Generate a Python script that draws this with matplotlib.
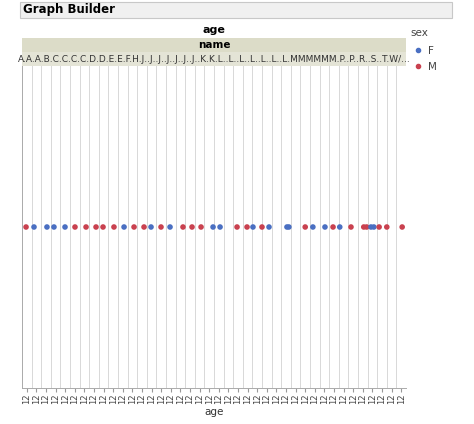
import matplotlib.pyplot as plt
from matplotlib.patches import Rectangle
import numpy as np

# dot positions in panel units (40 name panels, all age 12)
dot_x = [0.42, 1.25, 2.6, 3.33, 4.48, 5.52, 6.67, 7.71, 8.44, 9.58, 10.63, 11.67, 12.71,
         13.44, 14.48, 15.42, 16.77, 17.71, 18.65, 19.9, 20.63, 22.4, 23.44, 24.06, 25.0,
         25.73, 27.6, 27.8, 29.5, 30.3, 31.56, 32.4, 33.1, 34.27, 35.6, 35.9, 36.35, 36.65,
         37.2, 38.0, 39.6]
dot_sex = list("RBBBBRRRRRBRRBRBRRRBBRRBRBBBRBBRBRRRBBRR" + "R")
name_row = "A.A.A.B.C.C.C.C.D.D.E.E.F.H.J..J..J..J..J..J..J..K.K.L..L..L..L..L..L..L.MMMMMM.P..P..R..S..T.W/..."
n_panels = 40
colors = {"B": "#4a6fc2", "R": "#c9414f"}

fig = plt.figure(figsize=(4.74, 4.24), dpi=100)
W, H = 474, 424

def fx(px):
    return px / W

def fy(py):
    return 1 - py / H

# title bar
fig.patches.append(Rectangle((fx(20), fy(18)), fx(432), 16 / H, transform=fig.transFigure,
                             facecolor="#f0f0f0", edgecolor="#c8c8c8", lw=0.8))
fig.text(fx(23), fy(10), "Graph Builder", fontsize=8.5, fontweight="bold", va="center")

# header bands
fig.patches.append(Rectangle((fx(22), fy(66)), fx(384), 28 / H, transform=fig.transFigure,
                             facecolor="#e4e4d6", edgecolor="none"))
fig.patches.append(Rectangle((fx(22), fy(52)), fx(384), 14 / H, transform=fig.transFigure,
                             facecolor="#dcdcc8", edgecolor="none"))
fig.text(fx(214), fy(30), "age", fontsize=8, fontweight="bold", ha="center", va="center")
fig.text(fx(214), fy(45), "name", fontsize=7.5, fontweight="bold", ha="center", va="center")
fig.text(fx(214), fy(60), name_row, fontsize=6.5, ha="center", va="center", color="#333333")

ax = fig.add_axes([fx(22), fy(388), fx(384), 322 / H])
for i in range(1, n_panels):
    ax.axvline(i, color="#d8d8d8", lw=0.7)
ax.scatter(dot_x, [0.5] * len(dot_x), c=[colors[s] for s in dot_sex], s=9, zorder=3)
ax.set_xlim(0, n_panels)
ax.set_ylim(0, 1)
ax.set_yticks([])
ax.set_xticks(np.arange(n_panels) + 0.5)
ax.set_xticklabels(["12"] * n_panels, rotation=90, fontsize=6, color="#444444")
ax.tick_params(axis="x", length=3, color="#999999", pad=1)
for s in ax.spines.values():
    s.set_color("#aaaaaa")
    s.set_linewidth(0.7)
ax.spines["top"].set_visible(False)
ax.spines["right"].set_visible(False)
fig.text(fx(214), fy(412), "age", fontsize=7.5, ha="center", va="center", color="#333333")

# legend
fig.text(fx(410), fy(33), "sex", fontsize=7.5, va="center", color="#444444")
fig.text(fx(428), fy(51), "F", fontsize=7.5, va="center", color="#444444")
fig.text(fx(428), fy(67), "M", fontsize=7.5, va="center", color="#444444")
fig.add_artist(plt.Line2D([fx(418)], [fy(50)], marker="o", ms=3, color=colors["B"],
                          transform=fig.transFigure))
fig.add_artist(plt.Line2D([fx(418)], [fy(66)], marker="o", ms=3, color=colors["R"],
                          transform=fig.transFigure))

fig.savefig("out.png", dpi=100)
